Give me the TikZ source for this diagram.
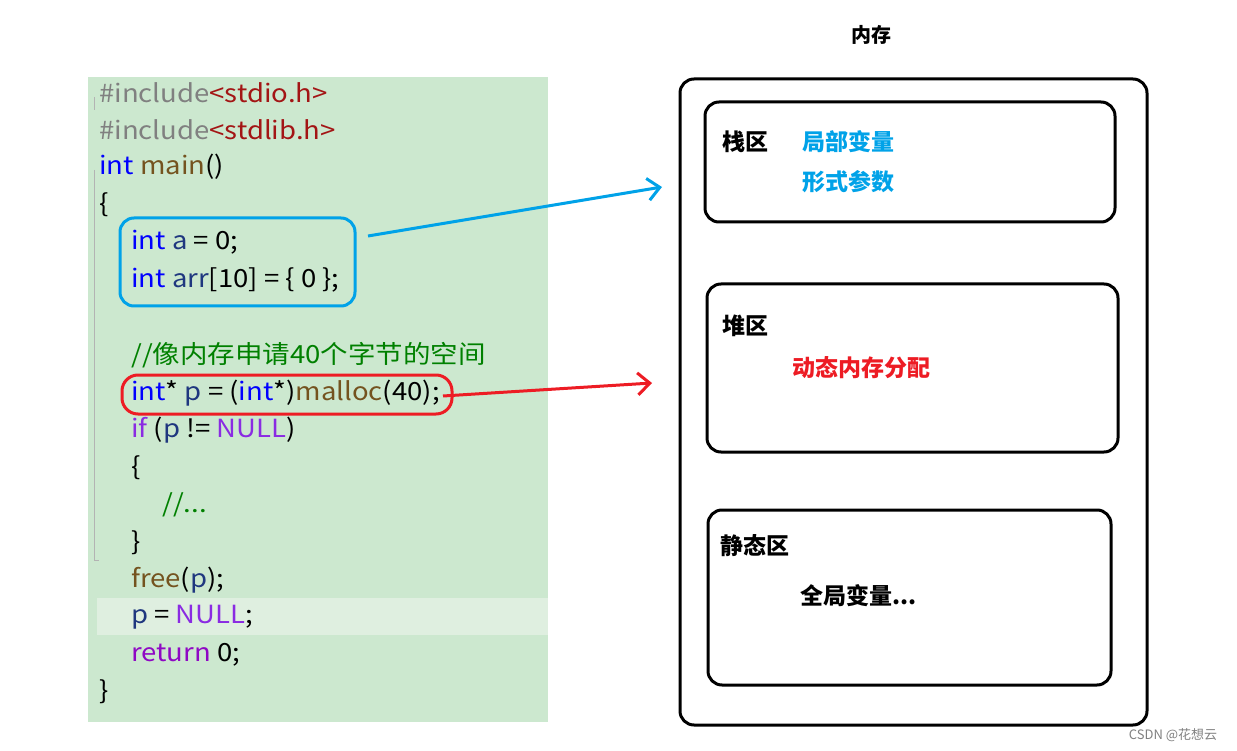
\documentclass[tikz,border=0pt]{standalone}
\usepackage{fontspec}
\setmainfont{Noto Sans CJK SC}
\usetikzlibrary{arrows.meta}
\definecolor{bg}{HTML}{CCE8CF}
\definecolor{hl}{HTML}{DFEFE0}
\definecolor{gr}{HTML}{808080}
\definecolor{dr}{HTML}{A31515}
\definecolor{kw}{HTML}{0000FF}
\definecolor{fn}{HTML}{74531F}
\definecolor{pu}{HTML}{8A2BE2}
\definecolor{cm}{HTML}{008000}
\definecolor{vr}{HTML}{1F377F}
\definecolor{rt}{HTML}{8F08C4}
\definecolor{bl}{HTML}{00A2E8}
\definecolor{rd}{HTML}{ED1C24}
\begin{document}
\begin{tikzpicture}[x=1pt,y=-1pt,
  code/.style={anchor=west,inner sep=0pt,xscale=1.1,font=\fontsize{25}{25}\selectfont},
  area/.style={draw,line width=3pt,rounded corners=14pt},
  lab/.style={anchor=west,inner sep=0pt,font=\bfseries\fontsize{23}{23}\selectfont}]
\useasboundingbox (0,0) rectangle (1237,751);
\fill[bg] (88,77) rectangle (548,722);
\fill[hl] (97,598) rectangle (548,635);
\draw[gr!60,line width=0.6pt] (94,97)--(94,110) (94,170)--(94,560)--(99,560);
\node[code] (l1) at (99,93) {\color{gr}\#include\color{dr}<stdio.h>};
\node[code] (l2) at (99,130) {\color{gr}\#include\color{dr}<stdlib.h>};
\node[code] (l3) at (99,167) {\color{kw}int \color{fn}main\color{black}()};
\node[code] (l4) at (99,205) {\{};
\node[code] (l5) at (131,242) {\color{kw}int \color{vr}a \color{black}= 0;};
\node[code] (l6) at (131,280) {\color{kw}int \color{vr}arr\color{black}[10] = \{ 0 \};};
\node[code] (l7) at (131,355) {\color{cm}//像内存申请40个字节的空间};
\node[code] (l8) at (131,393) {\color{kw}int\color{black}* \color{vr}p \color{black}= (\color{kw}int\color{black}*)\color{fn}malloc\color{black}(40);};
\node[code] (l9) at (131,430) {\color{pu}if \color{black}(\color{vr}p \color{black}!= \color{pu}NULL\color{black})};
\node[code] (l10) at (131,468) {\{};
\node[code] (l11) at (162,505) {\color{cm}//...};
\node[code] (l12) at (131,543) {\}};
\node[code] (l13) at (131,580) {\color{fn}free\color{black}(\color{vr}p\color{black});};
\node[code] (l14) at (131,617) {\color{vr}p \color{black}= \color{pu}NULL\color{black};};
\node[code] (l15) at (131,655) {\color{rt}return \color{black}0;};
\node[code] (l16) at (99,692) {\}};
\draw[bl,line width=3pt,rounded corners=14pt] (120,218) rectangle (355,306);
\draw[rd,line width=3pt,rounded corners=16pt] (122,375) rectangle (452,414);
\node[font=\bfseries\fontsize{20}{20}\selectfont] (title) at (871,35) {内存};
\draw[area] (680,79) rectangle (1147,725);
\draw[area] (705,102) rectangle (1115,222);
\draw[area] (707,284) rectangle (1118,452);
\draw[area] (708,510) rectangle (1111,685);
\node[lab] (s1) at (722,142) {栈区};
\node[lab,bl] (s2) at (802,142) {局部变量};
\node[lab,bl] (s3) at (802,182) {形式参数};
\node[lab] (h1) at (722,326) {堆区};
\node[lab,rd] (h2) at (792,368) {动态内存分配};
\node[lab] (t1) at (720,546) {静态区};
\node[lab] (t2) at (800,596) {全局变量...};
\coordinate (ba) at (368,236);
\coordinate (bb) at (662,187);
\coordinate (ra) at (443,396);
\coordinate (rb) at (652,383);
\draw[bl,line width=3pt,-{Straight Barb[length=12pt,width=22pt]}] (ba)--(bb);
\draw[rd,line width=3pt,-{Straight Barb[length=12pt,width=22pt]}] (ra)--(rb);
\node[gr,font=\fontsize{13}{13}\selectfont] (wm) at (1173,735) {CSDN @花想云};
\end{tikzpicture}
\end{document}
